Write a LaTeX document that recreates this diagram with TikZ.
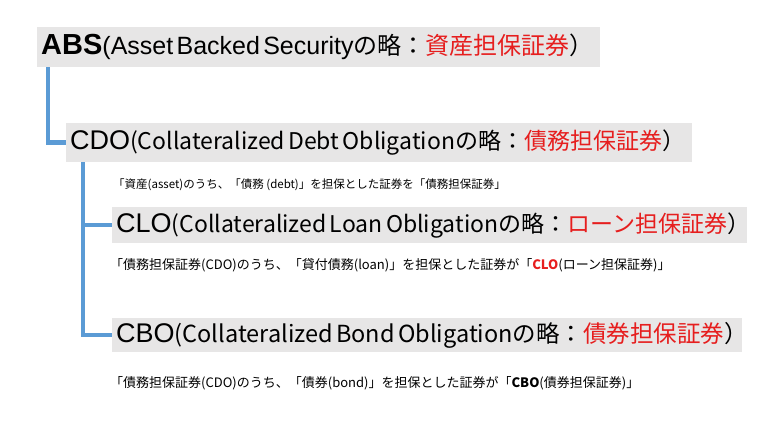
\documentclass[tikz,border=0pt]{standalone}
\usepackage{fontspec}
\newfontfamily\jp{Noto Sans CJK JP}
\newfontfamily\ar{Liberation Sans}
\definecolor{boxgray}{RGB}{231,230,230}
\definecolor{jred}{RGB}{230,30,30}
\definecolor{lineblue}{RGB}{91,155,213}
\newcommand{\hd}[4]{{\ar\fontsize{27}{27}\selectfont #1}{\jp\fontsize{#4}{#4}\selectfont (#2の略：\textcolor{jred}{#3}）}}
\begin{document}
\begin{tikzpicture}[x=1pt,y=-1pt,
  hbox/.style={fill=boxgray, anchor=north west, inner xsep=4pt, inner ysep=0pt, align=left},
  desc/.style={anchor=west, inner sep=0pt, font=\jp\fontsize{13}{13}\selectfont},
  conn/.style={draw=lineblue, line width=4.5pt}]
\useasboundingbox (0,0) rectangle (768,432);
\node[hbox, minimum width=563pt, minimum height=40pt, text width=555pt] (abs) at (37,27)
  {{\ar\bfseries\fontsize{29}{29}\selectfont ABS}{\ar\fontsize{25}{25}\selectfont(Asset Backed Security}{\jp\fontsize{24}{24}\selectfont の略：\textcolor{jred}{資産担保証券}）}};
\node[hbox, minimum width=626pt, minimum height=39pt, text width=618pt] (cdo) at (66,123)
  {\hd{CDO}{Collateralized Debt Obligation}{債務担保証券}{23}};
\node[hbox, minimum width=635pt, minimum height=36pt, text width=627pt] (clo) at (112,207)
  {\hd{CLO}{Collateralized Loan Obligation}{ローン担保証券}{23}};
\node[hbox, minimum width=630pt, minimum height=34pt, text width=622pt] (cbo) at (112,318)
  {\hd{CBO}{Collateralized Bond Obligation}{債券担保証券}{23.5}};
\node[desc, font=\jp\fontsize{11.5}{11.5}\selectfont] (d1) at (113,185) {「資産(asset)のうち、「債務 (debt)」を担保とした証券を「債務担保証券」};
\node[desc] (d2) at (110,265) {「債務担保証券(CDO)のうち、「貸付債務(loan)」を担保とした証券が「\textcolor{jred}{\bfseries CLO}(ローン担保証券)」};
\node[desc] (d3) at (110,383) {「債務担保証券(CDO)のうち、「債券(bond)」を担保とした証券が「\textbf{CBO}(債券担保証券)」};
\draw[conn] ([xshift=11pt]abs.south west) |- (cdo.west);
\draw[conn] ([xshift=17pt]cdo.south west) |- (clo.west);
\draw[conn] ([xshift=17pt]cdo.south west) |- (cbo.west);
\end{tikzpicture}
\end{document}
